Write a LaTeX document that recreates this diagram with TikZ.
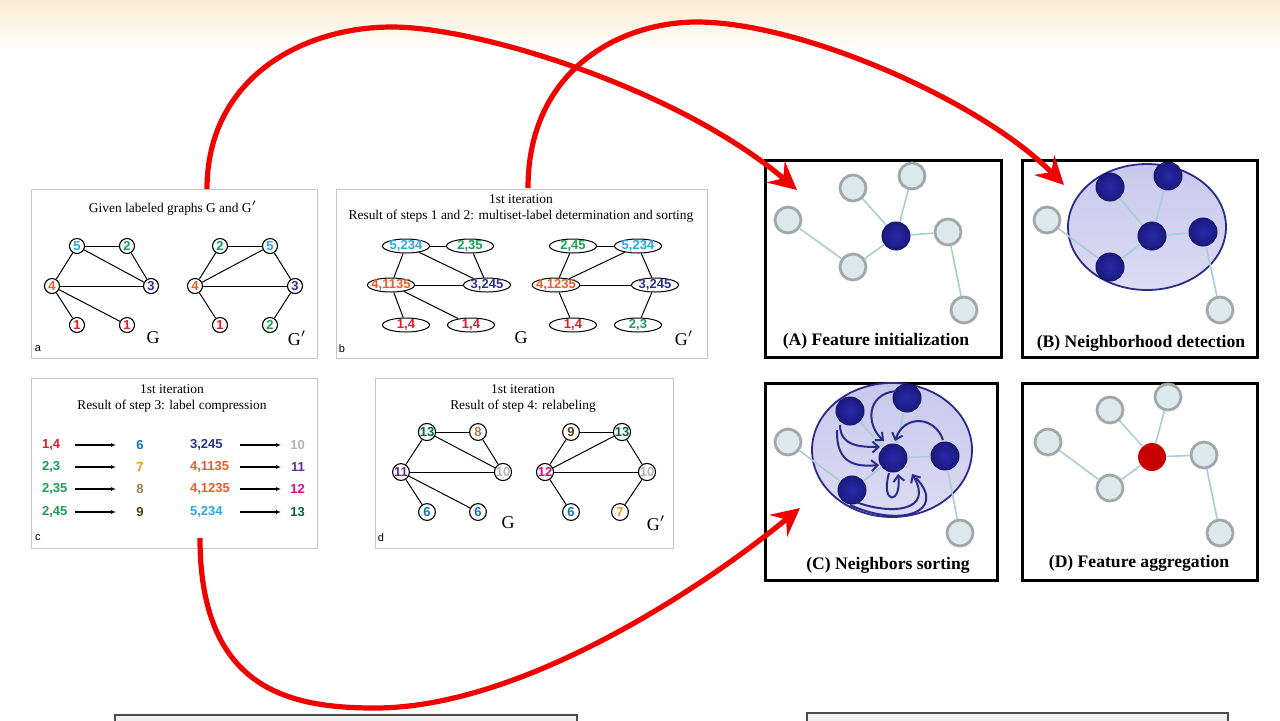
\documentclass[tikz,border=0pt]{standalone}
\usepackage{fontspec}
\setmainfont{Liberation Serif}
\setsansfont{Liberation Sans}
\usepackage{tikz}
\usetikzlibrary{shapes}
\usetikzlibrary{positioning}
\usetikzlibrary{arrows.meta}
\usepackage{xcolor}

\definecolor{lbone}{HTML}{E8192C}
\definecolor{lbtwo}{HTML}{1AA053}
\definecolor{lbthree}{HTML}{2E3192}
\definecolor{lbfour}{HTML}{F15A29}
\definecolor{lbfive}{HTML}{27AAE1}
\definecolor{lbsix}{HTML}{0F75BC}
\definecolor{lbseven}{HTML}{F7941D}
\definecolor{lbeight}{HTML}{A67C52}
\definecolor{lbnine}{HTML}{603913}
\definecolor{lbten}{HTML}{B3B3B3}
\definecolor{lbeleven}{HTML}{662D91}
\definecolor{lbtwelve}{HTML}{EC008C}
\definecolor{lbthirteen}{HTML}{006838}
\definecolor{arcred}{HTML}{F20000}
\definecolor{nodefill}{HTML}{DCE9ED}
\definecolor{nodering}{HTML}{A2A8AA}
\definecolor{navy}{HTML}{1A1A80}
\definecolor{navyin}{HTML}{2828A8}
\definecolor{swirl}{HTML}{2B2C8A}
\definecolor{stedge}{HTML}{A9CED3}
\definecolor{peach}{HTML}{FCEBD2}
\definecolor{hoodtop}{HTML}{C8C8EC}
\definecolor{hoodbot}{HTML}{DCDCF4}

\tikzset{
  panel/.style={draw=black!22, line width=0.5pt, fill=white},
  ttl/.style={font=\fontsize{6.7}{8}\selectfont, align=center},
  gname/.style={font=\fontsize{9}{9}\selectfont},
  plet/.style={font=\sffamily\fontsize{5.5}{6}\selectfont},
  num/.style={font=\sffamily\bfseries\fontsize{6.5}{7}\selectfont},
  wl/.style={num, circle, draw, line width=0.55pt, fill=white, inner sep=0pt, minimum size=7.5pt},
  wlb/.style={wl, minimum size=8.4pt},
  ml/.style={num, ellipse, draw, line width=0.5pt, fill=white, inner xsep=-1.5pt, inner ysep=-0.5pt, minimum width=23.5pt, minimum height=7pt},
  gedge/.style={draw=black, line width=0.5pt},
  carr/.style={draw=black, line width=0.55pt, -{Latex[length=2.5pt,width=2pt]}},
  box/.style={draw=black, line width=1.5pt},
  lnode/.style={circle, draw=nodering, line width=1.4pt, fill=nodefill, minimum size=13pt, inner sep=0pt},
  dnode/.style={circle, draw=navy!80!black, line width=0.5pt, inner color=navyin, outer color=navy, minimum size=14pt, inner sep=0pt},
  rnode/.style={circle, fill=red!78!black, minimum size=14pt, inner sep=0pt},
  sedge/.style={draw=stedge, line width=0.8pt},
  hood/.style={draw=swirl, line width=0.9pt, top color=hoodtop, bottom color=hoodbot},
  swirlarr/.style={draw=swirl, line width=1pt, -{Straight Barb[length=3pt,width=5.5pt]}},
  bigarc/.style={draw=arcred, line width=2.6pt, -{Stealth[length=14pt,width=14pt,inset=5pt]}},
  caption/.style={font=\bfseries\fontsize{8.8}{9}\selectfont}
}

\begin{document}
\begin{tikzpicture}[x=0.5pt,y=-0.5pt]
\useasboundingbox (0,0) rectangle (1280,720);
\fill[white] (0,0) rectangle (1280,720);
\shade[top color=peach, bottom color=white] (0,0) rectangle (1280,50);

% panel a
\draw[panel] (31,189) rectangle (317,358);
\node[ttl] (ta) at (173,208) {Given labeled graphs G and G$'$};
\node[wl, text=lbfive] (aG-tl) at (77,246) {5};
\node[wl, text=lbtwo] (aG-tr) at (127,246) {2};
\node[wl, text=lbfour] (aG-l) at (52,286) {4};
\node[wl, text=lbthree] (aG-r) at (151,286) {3};
\node[wl, text=lbone] (aG-bl) at (77,325) {1};
\node[wl, text=lbone] (aG-br) at (127,325) {1};
\node[wl, text=lbtwo] (aH-tl) at (220,246) {2};
\node[wl, text=lbfive] (aH-tr) at (270,246) {5};
\node[wl, text=lbfour] (aH-l) at (195,286) {4};
\node[wl, text=lbthree] (aH-r) at (295,286) {3};
\node[wl, text=lbone] (aH-bl) at (220,325) {1};
\node[wl, text=lbtwo] (aH-br) at (270,325) {2};
\node[gname] (ga) at (153,338) {G};
\node[gname] (gha) at (297,338) {G$'$};
\node[plet] (la) at (38,349) {a};

% panel b
\draw[panel] (336,189) rectangle (707,358);
\node[ttl] (tb) at (521,208) {1st iteration\\Result of steps 1 and 2: multiset-label determination and sorting};
\node[ml, text=lbfive] (bG-tl) at (406,246) {5,234};
\node[ml, text=lbtwo] (bG-tr) at (470,246) {2,35};
\node[ml, text=lbfour] (bG-l) at (391,285) {4,1135};
\node[ml, text=lbthree] (bG-r) at (487,285) {3,245};
\node[ml, text=lbone] (bG-bl) at (406,325) {1,4};
\node[ml, text=lbone] (bG-br) at (471,325) {1,4};
\node[ml, text=lbtwo] (bH-tl) at (573,246) {2,45};
\node[ml, text=lbfive] (bH-tr) at (638,246) {5,234};
\node[ml, text=lbfour] (bH-l) at (556,285) {4,1235};
\node[ml, text=lbthree] (bH-r) at (655,285) {3,245};
\node[ml, text=lbone] (bH-bl) at (573,325) {1,4};
\node[ml, text=lbtwo] (bH-br) at (638,325) {2,3};
\node[gname] (gb) at (521,338) {G};
\node[gname] (ghb) at (684,338) {G$'$};
\node[plet] (lb) at (342,349) {b};

% panel c
\draw[panel] (31,378) rectangle (317,548);
\node[ttl] (tc) at (172,398) {1st iteration\\Result of step 3: label compression};
\foreach \y/\l/\lc/\r/\rc in {445/{1,4}/lbone/6/lbsix, 467/{2,3}/lbtwo/7/lbseven, 489/{2,35}/lbtwo/8/lbeight, 512/{2,45}/lbtwo/9/lbnine}{
  \node[num, text=\lc, anchor=west] (cl\y) at (35,\y) {\l};
  \draw[carr] (75,\y) -- (116,\y);
  \node[num, text=\rc] (cr\y) at (140,\y) {\r};
}
\foreach \y/\l/\lc/\r/\rc in {445/{3,245}/lbthree/10/lbten, 467/{4,1135}/lbfour/11/lbeleven, 489/{4,1235}/lbfour/12/lbtwelve, 512/{5,234}/lbfive/13/lbthirteen}{
  \node[num, text=\lc, anchor=west] (dl\y) at (183,\y) {\l};
  \draw[carr] (240,\y) -- (281,\y);
  \node[num, text=\rc, anchor=east] (dr\y) at (312,\y) {\r};
}
\node[plet] (lc) at (38,538) {c};

% panel d
\draw[panel] (375,378) rectangle (673,548);
\node[ttl] (td) at (523,398) {1st iteration\\Result of step 4: relabeling};
\node[wlb, text=lbthirteen] (dG-tl) at (427,432) {13};
\node[wlb, text=lbeight] (dG-tr) at (478,432) {8};
\node[wlb, text=lbeleven] (dG-l) at (401,472) {11};
\node[wlb, text=lbten] (dG-r) at (503,472) {10};
\node[wlb, text=lbsix] (dG-bl) at (427,512) {6};
\node[wlb, text=lbsix] (dG-br) at (478,512) {6};
\node[wlb, text=lbnine] (dH-tl) at (571,432) {9};
\node[wlb, text=lbthirteen] (dH-tr) at (622,432) {13};
\node[wlb, text=lbtwelve] (dH-l) at (545,472) {12};
\node[wlb, text=lbten] (dH-r) at (647,472) {10};
\node[wlb, text=lbsix] (dH-bl) at (571,512) {6};
\node[wlb, text=lbseven] (dH-br) at (620,512) {7};
\node[gname] (gd) at (508,523) {G};
\node[gname] (ghd) at (656,523) {G$'$};
\node[plet] (ld) at (381,538) {d};

\foreach \p in {aG,bG,dG}
  \foreach \u/\v in {tl/tr,tl/l,tl/r,tr/r,l/r,l/bl,l/br}
    \draw[gedge] (\p-\u) -- (\p-\v);
\foreach \p in {aH,bH,dH}
  \foreach \u/\v in {tl/tr,tl/l,tr/l,tr/r,l/r,l/bl,r/br}
    \draw[gedge] (\p-\u) -- (\p-\v);

% (A) feature initialization
\draw[box] (765,160) rectangle (1001,357);
\begin{scope}[shift={(896,236)}]
\node[lnode] (A1) at (-43,-48) {};
\node[lnode] (A2) at (16,-60) {};
\node[lnode] (A3) at (-108,-16) {};
\node[lnode] (A4) at (52,-4) {};
\node[lnode] (A5) at (-43,31) {};
\node[lnode] (A6) at (68,74) {};
\node[dnode] (A0) at (0,0) {};
\end{scope}
\node[caption] (capA) at (876,341) {(A) Feature initialization};

% (B) neighborhood detection
\draw[box] (1022,160) rectangle (1257,357);
\draw[hood] (1147,227) ellipse [x radius=79, y radius=63];
\begin{scope}[shift={(1152,236)}]
\node[dnode] (B1) at (-42,-49) {};
\node[dnode] (B2) at (16,-60) {};
\node[lnode] (B3) at (-105,-16) {};
\node[dnode] (B4) at (51,-4) {};
\node[dnode] (B5) at (-42,31) {};
\node[lnode] (B6) at (68,74) {};
\node[dnode] (B0) at (0,0) {};
\end{scope}
\node[caption] (capB) at (1141,343) {(B) Neighborhood detection};

% (C) neighbors sorting
\draw[box] (765,383) rectangle (997,580);
\draw[hood] (892,450) ellipse [x radius=80, y radius=67];
\begin{scope}[shift={(893,458)}]
\node[dnode] (C1) at (-43,-47) {};
\node[dnode] (C2) at (14,-60) {};
\node[lnode] (C3) at (-105,-16) {};
\node[dnode] (C4) at (52,-2) {};
\node[dnode] (C5) at (-41,32) {};
\node[lnode] (C6) at (67,75) {};
\node[dnode] (C0) at (0,0) {};
\end{scope}
\node[caption] (capC) at (888,565) {(C) Neighbors sorting};

% (D) feature aggregation
\draw[box] (1022,383) rectangle (1257,580);
\begin{scope}[shift={(1152,457)}]
\node[lnode] (D1) at (-42,-47) {};
\node[lnode] (D2) at (16,-60) {};
\node[lnode] (D3) at (-104,-15) {};
\node[lnode] (D4) at (52,-2) {};
\node[lnode] (D5) at (-42,31) {};
\node[lnode] (D6) at (68,76) {};
\node[rnode] (D0) at (0,0) {};
\end{scope}
\node[caption] (capD) at (1139,563) {(D) Feature aggregation};

\foreach \p in {A,B,C,D}
  \foreach \u/\v in {0/1,0/2,0/4,0/5,5/3,4/6}
    \draw[sedge] (\p\u) -- (\p\v);

% swirl of sorting arrows
\draw[swirlarr] (840,425) .. controls (840,446) and (860,447) .. (880,447);
\draw[swirlarr] (837,430) .. controls (836,464) and (856,467) .. (879,465);
\draw[swirlarr] (896,391) .. controls (866,394) and (866,425) .. (884,441);
\draw[swirlarr] (943,440) .. controls (935,416) and (904,414) .. (895,441);
\draw[swirlarr] (856,502) .. controls (890,515) and (935,512) .. (912,474);
\draw[swirl, line width=1pt] (850,505) .. controls (900,528) and (948,512) .. (916,478);
\draw[swirlarr] (889,473) .. controls (880,505) and (902,505) .. (898,474);

% bottom bars
\draw[fill=black!6, draw=black!70, line width=0.6pt] (115,715) rectangle (577,730);
\draw[fill=black!6, draw=black!70, line width=0.6pt] (807,713) rectangle (1228,730);

% red arcs
\coordinate (s1) at (207,189);
\coordinate (e1) at (797,190);
\coordinate (s2) at (528,188);
\coordinate (e2) at (1064,185);
\coordinate (s3) at (200,538);
\coordinate (e3) at (800,508);
\draw[bigarc] (s1) .. controls (207,80) and (300,27) .. (392,27) .. controls (480,27) and (680,90) .. (e1);
\draw[bigarc] (s2) .. controls (528,70) and (620,22) .. (697,22) .. controls (800,22) and (980,100) .. (e2);
\draw[bigarc] (s3) .. controls (200,690) and (290,708) .. (375,708) .. controls (520,708) and (700,590) .. (e3);
\end{tikzpicture}
\end{document}
